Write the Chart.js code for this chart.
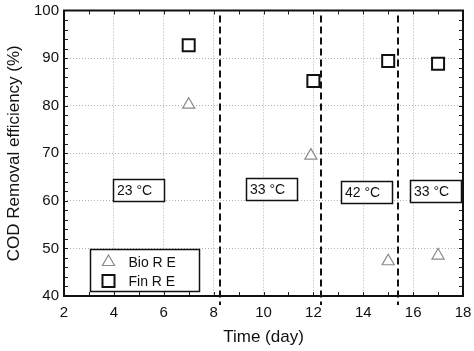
<!DOCTYPE html>
<html>
<head>
<meta charset="utf-8">
<script src="https://cdn.jsdelivr.net/npm/chart.js@4/dist/chart.umd.min.js"></script>
<style>
  html, body { margin: 0; padding: 0; background: #fff; overflow: hidden; }
  #wrap { width: 474px; height: 351px; }
</style>
</head>
<body>
<div id="wrap"><canvas id="myChart" width="474" height="351"></canvas></div>
<script>
// values
const bioDays = [7.0, 11.9, 15.0, 17.0];
const bioEff = [80.2, 69.5, 47.3, 48.5];
const finDays = [7.0, 12.0, 15.0, 17.0];
const finEff = [92.7, 85.2, 89.4, 88.8];
const phaseBreaks = [8.25, 12.3, 15.4];
const tempLabels = ['23 °C', '33 °C', '42 °C', '33 °C'];
const tempDays = [4.98, 10.34, 14.14, 16.88];
const tempEff = [62.2, 62.4, 61.8, 62.0];

const FONT = "'Liberation Sans', Arial, sans-serif";

const toPts = (xs, ys) => xs.map((x, i) => ({ x: x, y: ys[i] }));

// frame, inward minor ticks, dashed phase lines, temperature boxes, legend
const extras = {
  id: 'extras',
  beforeDatasetsDraw(chart) {
    const ctx = chart.ctx;
    const a = chart.chartArea;
    const xs = chart.scales.x;
    const ys = chart.scales.y;
    ctx.save();
    // phase lines
    ctx.strokeStyle = '#111';
    ctx.lineWidth = 2;
    ctx.setLineDash([7, 4]);
    phaseBreaks.forEach(v => {
      const px = Math.round(xs.getPixelForValue(v));
      ctx.beginPath();
      ctx.moveTo(px, a.top + 5);
      ctx.lineTo(px, a.bottom + 9);
      ctx.stroke();
    });
    ctx.setLineDash([]);
    // minor ticks
    ctx.lineWidth = 1;
    ctx.strokeStyle = '#222';
    for (let v = xs.min + 1; v < xs.max; v++) {
      const px = Math.round(xs.getPixelForValue(v)) + 0.5;
      ctx.beginPath();
      ctx.moveTo(px, a.bottom); ctx.lineTo(px, a.bottom - 4);
      ctx.moveTo(px, a.top); ctx.lineTo(px, a.top + 4);
      ctx.stroke();
    }
    for (let v = ys.min + 2; v < ys.max; v += 2) {
      const py = Math.round(ys.getPixelForValue(v)) + 0.5;
      ctx.beginPath();
      ctx.moveTo(a.left, py); ctx.lineTo(a.left + 4, py);
      ctx.moveTo(a.right, py); ctx.lineTo(a.right - 4, py);
      ctx.stroke();
    }
    // temperature boxes
    ctx.font = '14px ' + FONT;
    ctx.textBaseline = 'middle';
    ctx.textAlign = 'left';
    tempLabels.forEach((t, i) => {
      const cx = xs.getPixelForValue(tempDays[i]);
      const cy = ys.getPixelForValue(tempEff[i]);
      const bx = Math.round(cx - 25.5) + 0.5;
      const by = Math.round(cy - 11) + 0.5;
      ctx.fillStyle = '#fff';
      ctx.fillRect(bx, by, 51, 22);
      ctx.strokeStyle = '#111';
      ctx.lineWidth = 1.5;
      ctx.strokeRect(bx, by, 51, 22);
      ctx.fillStyle = '#111';
      ctx.fillText(t, bx + 3.5, by + 11.5);
    });
    // frame
    ctx.strokeStyle = '#111';
    ctx.lineWidth = 2;
    ctx.strokeRect(a.left, a.top, a.right - a.left, a.bottom - a.top);
    ctx.restore();
  },
  afterDatasetsDraw(chart) {
    const ctx = chart.ctx;
    const a = chart.chartArea;
    ctx.save();
    const lx = a.left + 26.5, ly = a.bottom - 46.5;
    ctx.fillStyle = '#fff';
    ctx.fillRect(lx, ly, 109, 42);
    ctx.strokeStyle = '#111';
    ctx.lineWidth = 1.5;
    ctx.strokeRect(lx, ly, 109, 42);
    chart.data.datasets.forEach((ds, i) => {
      const cy = ly + 12.5 + i * 19;
      ctx.strokeStyle = ds.borderColor;
      ctx.lineWidth = ds.borderWidth;
      ctx.beginPath();
      if (ds.pointStyle === 'triangle') {
        const r = ds.pointRadius;
        ctx.moveTo(lx + 18, cy - r);
        ctx.lineTo(lx + 18 + r * 0.866, cy + r * 0.5);
        ctx.lineTo(lx + 18 - r * 0.866, cy + r * 0.5);
        ctx.closePath();
      } else {
        const s = ds.pointRadius * Math.SQRT1_2;
        ctx.rect(lx + 18 - s, cy - s, 2 * s, 2 * s);
      }
      ctx.stroke();
      ctx.fillStyle = '#111';
      ctx.font = '14px ' + FONT;
      ctx.textBaseline = 'middle';
      ctx.textAlign = 'left';
      ctx.fillText(ds.label, lx + 38, cy + 1);
    });
    ctx.restore();
  }
};

const ctx = document.querySelector('#myChart').getContext('2d');
const myChart = new Chart(ctx, {
  type: 'scatter',
  data: {
    datasets: [{
      label: 'Bio R E',
      data: toPts(bioDays, bioEff),
      pointStyle: 'triangle',
      pointRadius: 7,
      borderColor: '#8a8a8a',
      backgroundColor: '#fff',
      borderWidth: 1.2
    }, {
      label: 'Fin R E',
      data: toPts(finDays, finEff),
      pointStyle: 'rect',
      pointRadius: 8.5,
      borderColor: '#111',
      backgroundColor: '#fff',
      borderWidth: 2
    }]
  },
  options: {
    responsive: false,
    animation: false,
    layout: { padding: { top: 7, right: 11, left: 0, bottom: 0 } },
    plugins: {
      legend: { display: false },
      tooltip: { enabled: false }
    },
    scales: {
      x: {
        type: 'linear',
        min: 2, max: 18,
        border: { display: false, dash: [1, 2] },
        grid: { color: '#b0b0b0', drawTicks: false },
        ticks: { stepSize: 2, padding: 8, color: '#111', font: { family: FONT, size: 15 } },
        title: { display: true, text: 'Time (day)', color: '#111', font: { family: FONT, size: 17 }, padding: { top: 0, bottom: 3 } },
        afterFit(s) { s.height = 55; s.paddingLeft = 0; s.paddingRight = 0; }
      },
      y: {
        min: 40, max: 100,
        border: { display: false, dash: [1, 2] },
        grid: { color: '#b0b0b0', drawTicks: false },
        ticks: { stepSize: 10, padding: 5, color: '#111', font: { family: FONT, size: 15 } },
        title: { display: true, text: 'COD Removal efficiency (%)', color: '#111', font: { family: FONT, size: 17 }, padding: { top: 4, bottom: 0 } },
        afterFit(s) { s.width = 64; s.paddingTop = 0; s.paddingBottom = 0; }
      }
    }
  },
  plugins: [extras]
});
</script>
</body>
</html>
